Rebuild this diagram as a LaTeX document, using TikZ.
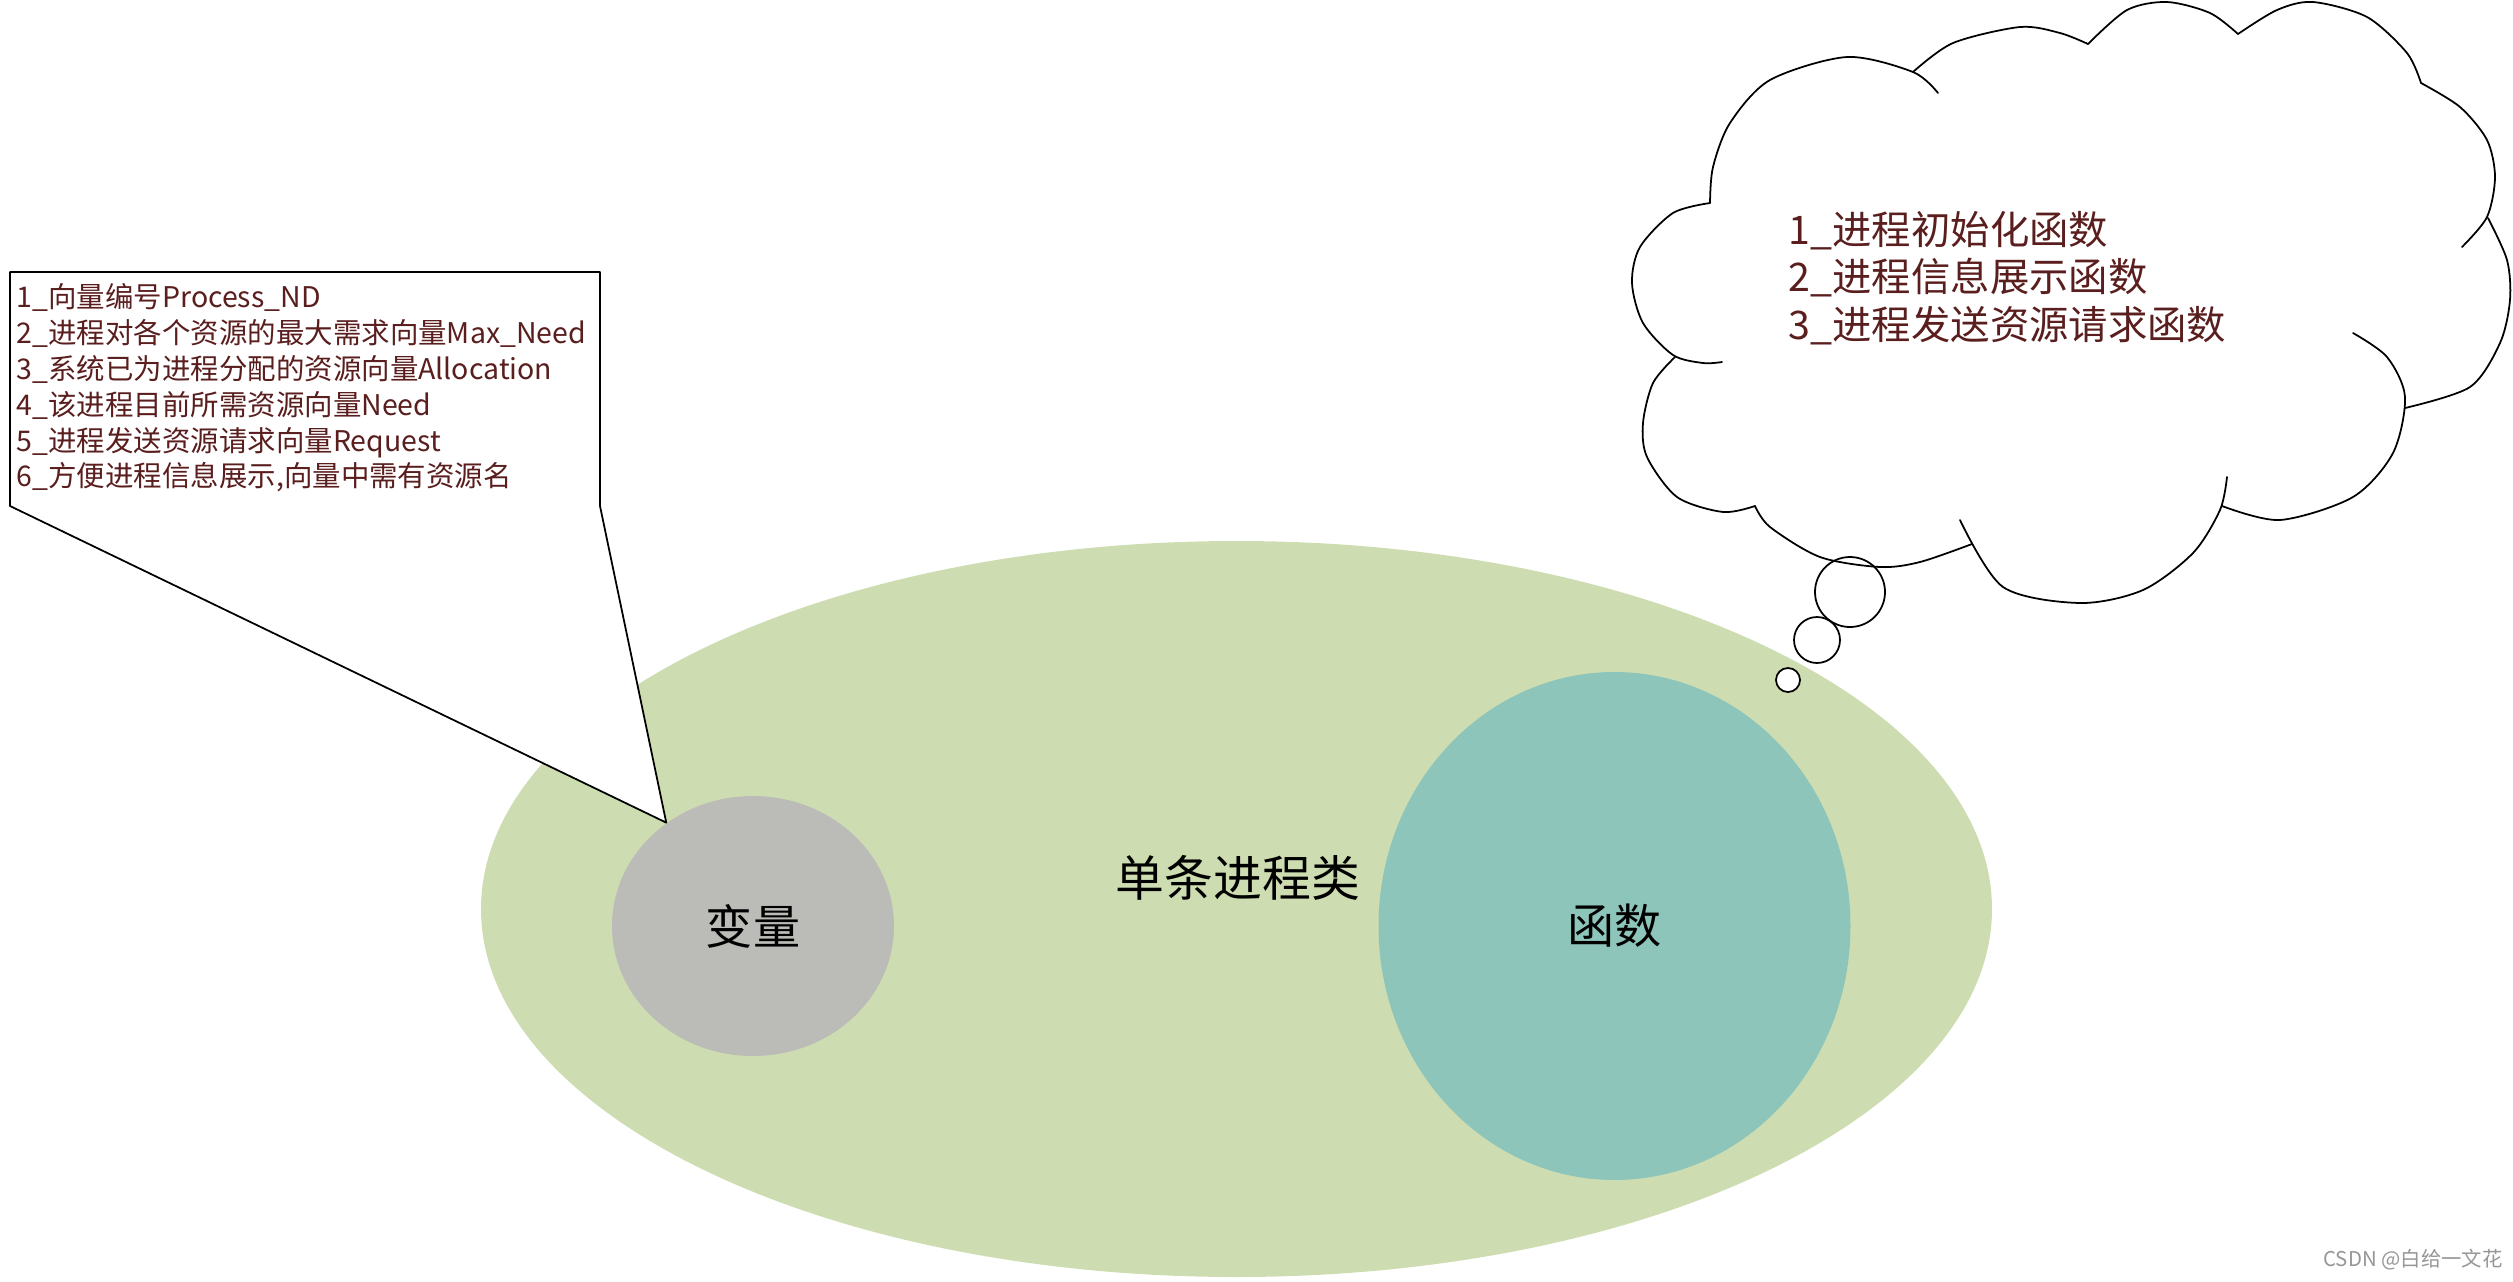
\documentclass[tikz,border=0pt]{standalone}
\usepackage{fontspec}
\setmainfont{Noto Sans CJK SC}
\usetikzlibrary{shapes.geometric}

\definecolor{classgreen}{RGB}{206,221,177}
\definecolor{vargray}{RGB}{187,188,183}
\definecolor{functeal}{RGB}{142,197,186}
\definecolor{notebrown}{RGB}{90,30,30}
\definecolor{markgray}{RGB}{150,150,150}

\begin{document}
\begin{tikzpicture}[
  line cap=round,
  line join=round,
  part/.style={ellipse,inner sep=0pt,font=\fontsize{13.4}{16}\selectfont},
  note/.style={text=notebrown,align=left,inner sep=0pt,anchor=west},
  outline/.style={draw=black,line width=0.5pt}
]
\useasboundingbox (0,0) rectangle (25.13,-12.81);

% ------------------------------------------------------------------
% Class with its two parts
% ------------------------------------------------------------------
\node[part,fill=classgreen,minimum width=15.11cm,minimum height=7.36cm]
  (cls) at (12.365,-9.09) {};
\node[font=\fontsize{13.9}{16}\selectfont] (clslabel) at (12.38,-8.78) {单条进程类};

\node[part,fill=vargray,minimum width=2.82cm,minimum height=2.60cm]
  (var) at (7.53,-9.26) {变量};
\node[part,fill=functeal,minimum width=4.72cm,minimum height=5.08cm]
  (func) at (16.145,-9.26) {函数};

% ------------------------------------------------------------------
% Callout for the variables
% ------------------------------------------------------------------
\coordinate (tip) at (var.130);
\draw[outline,fill=white] (0.10,-2.72) -- (6.00,-2.72) -- (6.00,-5.06)
  -- (tip) -- (0.10,-5.06) -- cycle;
\node[note,font=\fontsize{8.1}{10.2}\selectfont] (varnote) at (0.16,-3.88)
  {1\_向量编号Process\_ND\\
   2\_进程对各个资源的最大需求向量Max\_Need\\
   3\_系统已为进程分配的资源向量Allocation\\
   4\_该进程目前所需资源向量Need\\
   5\_进程发送资源请求向量Request\\
   6\_方便进程信息展示,向量中需有资源名};

% ------------------------------------------------------------------
% Thought cloud for the functions
% ------------------------------------------------------------------
\draw[outline] plot[smooth] coordinates {(17.10,-2.03) (17.13,-1.67) (17.30,-1.23) (17.70,-0.80) (18.47,-0.57) (19.13,-0.72) (19.38,-0.93)};
\draw[outline] plot[smooth] coordinates {(19.13,-0.72) (19.53,-0.43) (20.20,-0.27) (20.60,-0.33) (20.88,-0.44)};
\draw[outline] plot[smooth] coordinates {(20.88,-0.44) (21.27,-0.10) (21.67,-0.02) (22.10,-0.13) (22.38,-0.34)};
\draw[outline] plot[smooth] coordinates {(22.38,-0.34) (22.77,-0.10) (23.13,-0.02) (23.67,-0.17) (24.07,-0.53) (24.21,-0.83)};
\draw[outline] plot[smooth] coordinates {(24.21,-0.83) (24.60,-1.07) (24.87,-1.40) (24.95,-1.77) (24.87,-2.17) (24.62,-2.47)};
\draw[outline] plot[smooth] coordinates {(24.88,-2.18) (25.07,-2.60) (25.10,-3.00) (25.00,-3.43) (24.70,-3.87) (24.05,-4.08)};
\draw[outline] plot[smooth] coordinates {(23.53,-3.33) (23.87,-3.57) (24.05,-3.97) (23.93,-4.53) (23.53,-4.97) (22.80,-5.20) (22.22,-5.06)};
\draw[outline] plot[smooth] coordinates {(22.27,-4.77) (22.20,-5.10) (21.93,-5.53) (21.43,-5.90) (20.80,-6.03) (20.03,-5.87) (19.60,-5.20)};
\draw[outline] plot[smooth] coordinates {(19.72,-5.44) (19.20,-5.62) (18.80,-5.67) (18.20,-5.57) (17.70,-5.27) (17.55,-5.06)};
\draw[outline] plot[smooth] coordinates {(17.55,-5.06) (17.23,-5.12) (16.77,-4.97) (16.47,-4.57) (16.43,-4.23) (16.53,-3.83) (16.75,-3.57)};
\draw[outline] plot[smooth] coordinates {(17.22,-3.62) (17.03,-3.63) (16.73,-3.55) (16.43,-3.23) (16.32,-2.83) (16.40,-2.47) (16.73,-2.13) (17.10,-2.03)};

\foreach \cx/\cy/\r in {18.50/-5.92/0.35, 18.17/-6.40/0.23}
  \draw[outline] (\cx,\cy) circle (\r);
\draw[outline,fill=white] (17.88,-6.80) circle (0.12);

\node[note,font=\fontsize{11.2}{13.5}\selectfont] (funcnote) at (17.88,-2.78)
  {1\_进程初始化函数\\
   2\_进程信息展示函数\\
   3\_进程发送资源请求函数};

\node[text=markgray,font=\fontsize{5.8}{7}\selectfont] (mark) at (24.13,-12.60)
  {CSDN @白给一文花};

\end{tikzpicture}
\end{document}
